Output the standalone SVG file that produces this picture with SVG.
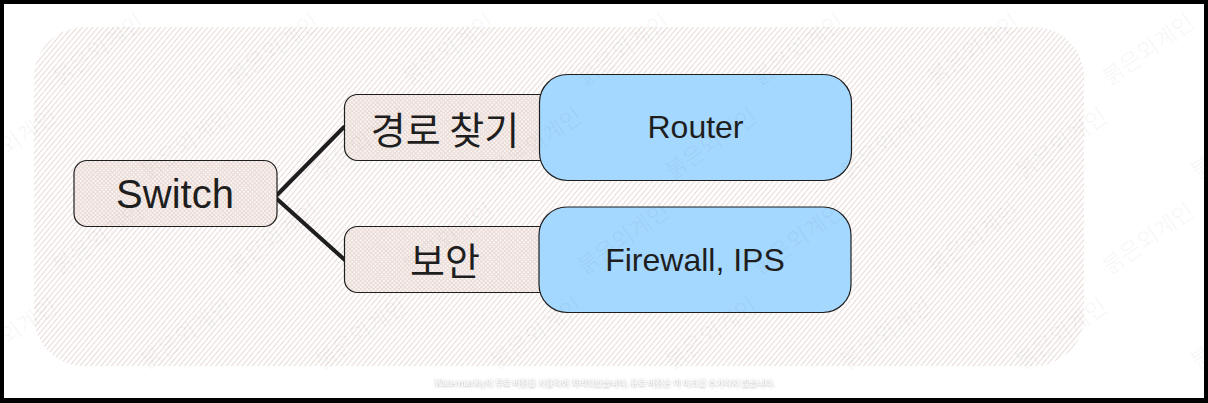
<svg xmlns="http://www.w3.org/2000/svg" width="1208" height="403" viewBox="0 0 1208 403">
<style>
.wm{font-family:"Noto Sans CJK KR","Liberation Sans",sans-serif;font-size:23px;fill:#000;fill-opacity:.045;text-anchor:middle;dominant-baseline:central}
.lb{font-family:"Liberation Sans","Noto Sans CJK KR",sans-serif;fill:#1e1e1e;text-anchor:middle;dominant-baseline:central}
.k{font-family:"Noto Sans CJK KR","Liberation Sans",sans-serif;font-size:38px;fill:#1e1e1e;text-anchor:middle;dominant-baseline:central}
.nd{fill:url(#cross);stroke:#1e1e1e;stroke-width:1.2}
.bl{fill:#a5d8ff;stroke:#1e1e1e;stroke-width:1.2}
.cn{stroke:#1e1e1e;stroke-width:4;stroke-linecap:round;fill:none}
</style>
<defs>
<pattern id="hatch" width="4" height="4" patternUnits="userSpaceOnUse" patternTransform="rotate(-50)">
<rect width="4" height="4" fill="#fff"/>
<rect width="4" height="1.1" fill="#eadcd8"/>
</pattern>
<pattern id="cross" width="3" height="3" patternUnits="userSpaceOnUse" patternTransform="rotate(45)">
<rect width="3" height="3" fill="#faf4f2"/>
<rect width="3" height="1" fill="#e9dad5"/>
<rect width="1" height="3" fill="#e9dad5"/>
</pattern>
<filter id="sh" x="-5%" y="-100%" width="110%" height="300%"><feDropShadow dx="0" dy="0.6" stdDeviation="0.9" flood-color="#000" flood-opacity=".4"/></filter>
</defs>
<rect width="1208" height="403" fill="#fff"/>
<rect x="34" y="27" width="1050" height="339" rx="50" fill="url(#hatch)"/>
<g id="connectors">
<path class="cn" d="M277 195L344 127"/>
<path class="cn" d="M277 199L346 261"/>
</g>
<g id="switch"><rect class="nd" x="74" y="160.500" width="203" height="66" rx="13"/><text class="lb" x="175" y="194" font-size="40">Switch</text></g>
<g id="path-finding"><rect class="nd" x="344.500" y="94.500" width="208" height="66" rx="13"/><text class="k" x="445" y="127">경로 찾기</text></g>
<g id="security"><rect class="nd" x="344.500" y="226.500" width="208" height="66" rx="13"/><text class="k" x="445" y="258">보안</text></g>
<g id="router"><rect class="bl" x="539.500" y="74.500" width="312" height="106" rx="28"/><text class="lb" x="695.500" y="127" font-size="32">Router</text></g>
<g id="firewall"><rect class="bl" x="539" y="207" width="312" height="105.500" rx="28"/><text class="lb" x="695" y="260" font-size="32">Firewall, IPS</text></g>
<g id="watermarks">
<g class="wm">
<text transform="translate(97 48) rotate(-35)">붉은외계인</text>
<text transform="translate(272 48) rotate(-35)">붉은외계인</text>
<text transform="translate(447 48) rotate(-35)">붉은외계인</text>
<text transform="translate(622 48) rotate(-35)">붉은외계인</text>
<text transform="translate(797 48) rotate(-35)">붉은외계인</text>
<text transform="translate(972 48) rotate(-35)">붉은외계인</text>
<text transform="translate(1147 48) rotate(-35)">붉은외계인</text>
<text transform="translate(10 142) rotate(-35)">붉은외계인</text>
<text transform="translate(185 142) rotate(-35)">붉은외계인</text>
<text transform="translate(360 142) rotate(-35)">붉은외계인</text>
<text transform="translate(535 142) rotate(-35)">붉은외계인</text>
<text transform="translate(710 142) rotate(-35)">붉은외계인</text>
<text transform="translate(885 142) rotate(-35)">붉은외계인</text>
<text transform="translate(1060 142) rotate(-35)">붉은외계인</text>
<text transform="translate(1235 142) rotate(-35)">붉은외계인</text>
<text transform="translate(97 237) rotate(-35)">붉은외계인</text>
<text transform="translate(272 237) rotate(-35)">붉은외계인</text>
<text transform="translate(447 237) rotate(-35)">붉은외계인</text>
<text transform="translate(622 237) rotate(-35)">붉은외계인</text>
<text transform="translate(797 237) rotate(-35)">붉은외계인</text>
<text transform="translate(972 237) rotate(-35)">붉은외계인</text>
<text transform="translate(1147 237) rotate(-35)">붉은외계인</text>
<text transform="translate(10 332) rotate(-35)">붉은외계인</text>
<text transform="translate(185 332) rotate(-35)">붉은외계인</text>
<text transform="translate(360 332) rotate(-35)">붉은외계인</text>
<text transform="translate(535 332) rotate(-35)">붉은외계인</text>
<text transform="translate(710 332) rotate(-35)">붉은외계인</text>
<text transform="translate(885 332) rotate(-35)">붉은외계인</text>
<text transform="translate(1060 332) rotate(-35)">붉은외계인</text>
<text transform="translate(1235 332) rotate(-35)">붉은외계인</text>
</g>
</g>
<text x="605" y="386" font-family="'Noto Sans CJK KR','Liberation Sans',sans-serif" font-size="8.500" fill="#f6f6f6" filter="url(#sh)" text-anchor="middle">Watermarkly의 무료 버전을 사용하여 처리되었습니다. 유료 버전은 이 마크를 추가하지 않습니다.</text>
<path fill="#000" fill-rule="evenodd" d="M0 0H1208V403H0ZM4 4V398H1204V4Z"/>
</svg>
